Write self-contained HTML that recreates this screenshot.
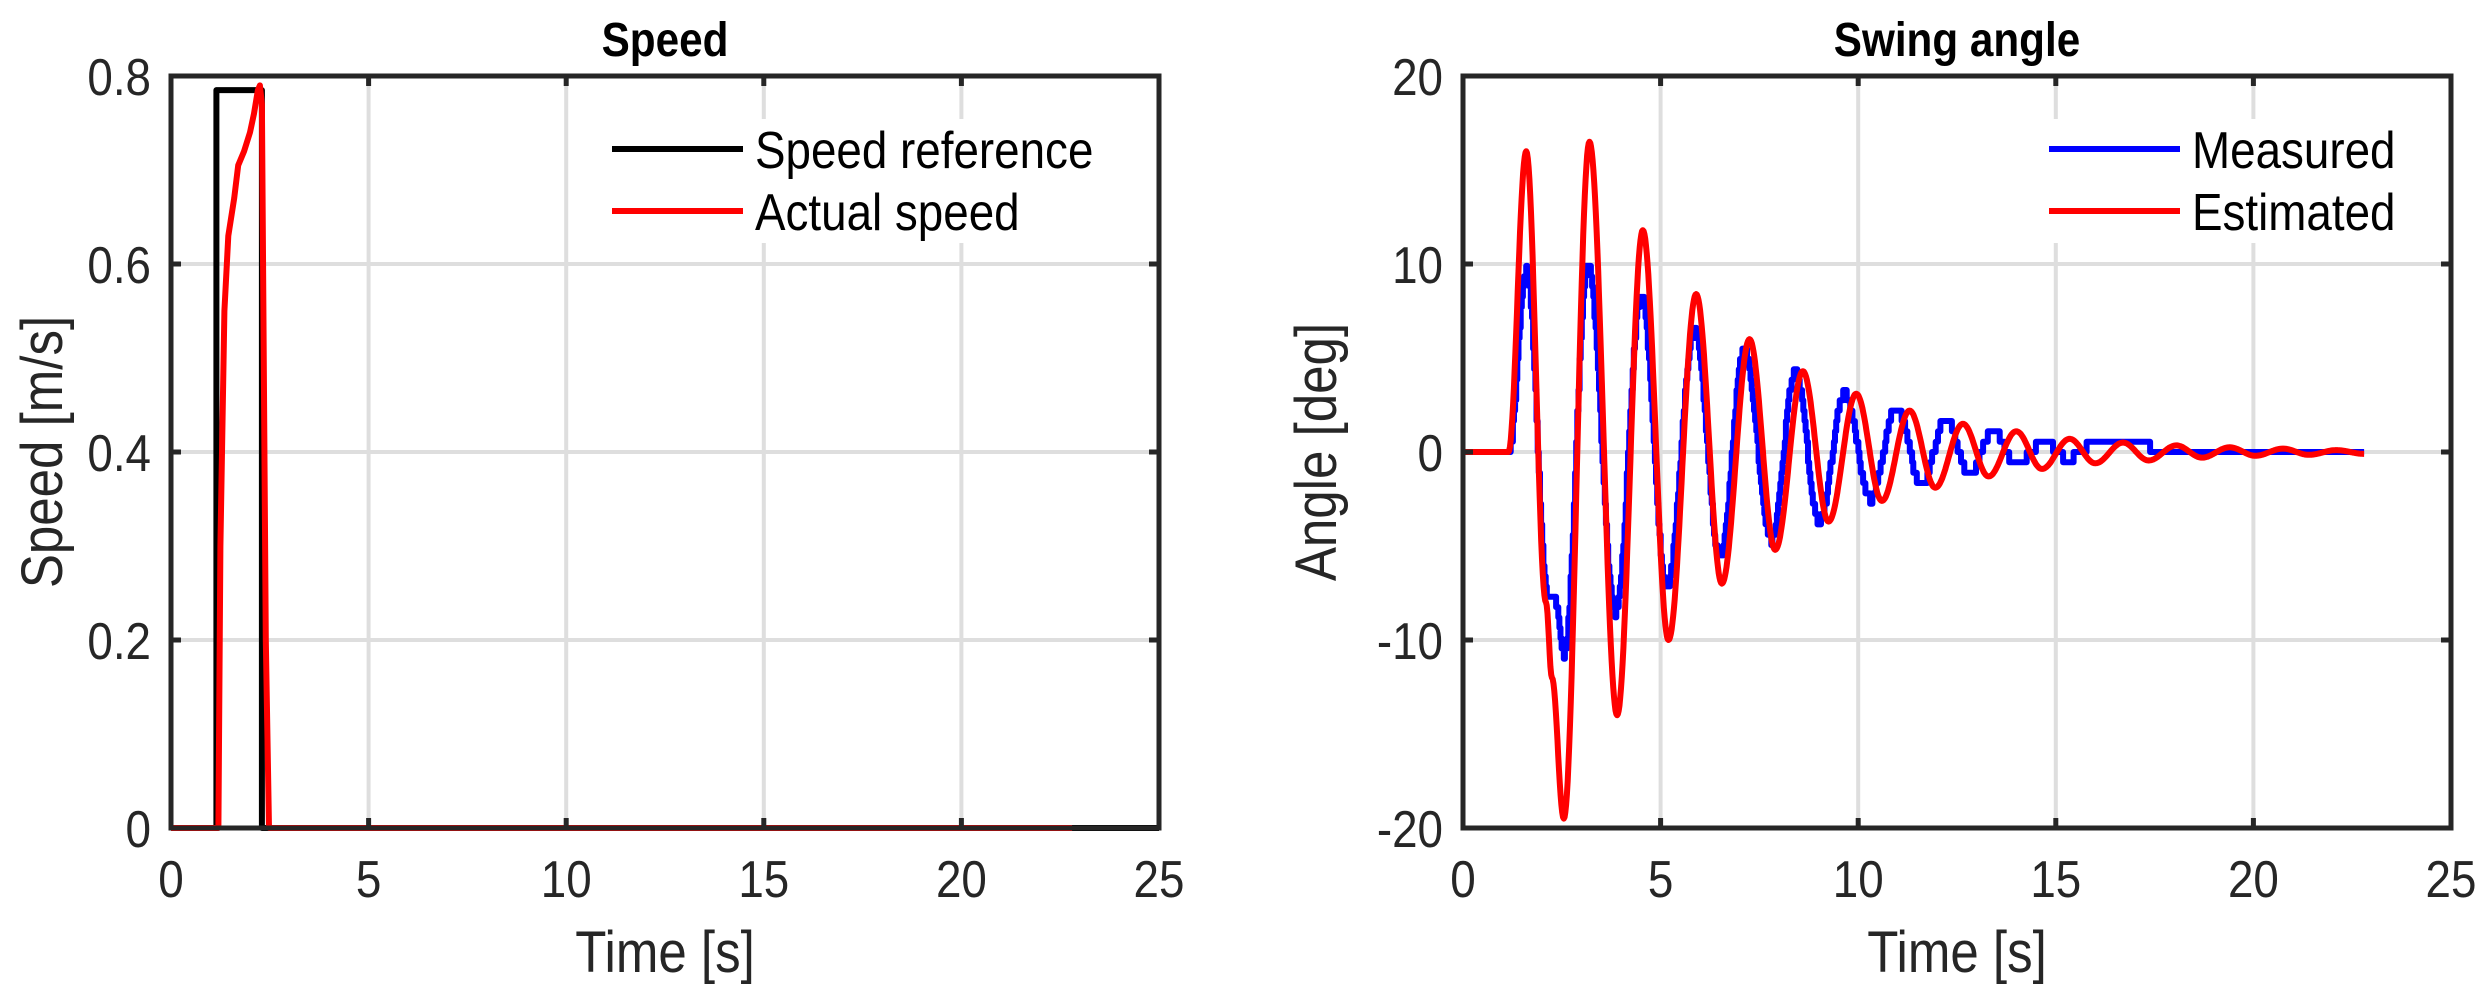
<!DOCTYPE html>
<html><head><meta charset="utf-8"><style>
html,body{margin:0;padding:0;background:#fff;}
svg{display:block;font-family:"Liberation Sans",Arial,sans-serif;}
</style></head><body>
<svg id="s" width="2492" height="995" viewBox="0 0 2492 995" xmlns="http://www.w3.org/2000/svg">
<rect width="2492" height="995" fill="#fff"/>
<g id="g"></g>
</svg>
<script>
const NS="http://www.w3.org/2000/svg";const G=document.getElementById('g');
const texts=[];
function el(t,a,txt){const e=document.createElementNS(NS,t);for(const k in a)e.setAttribute(k,a[k]);if(txt!==undefined){e.textContent=txt;texts.push(e);}G.appendChild(e);return e;}
const T=76,B=828,W=988,LW=6;
function axes(x0,ymin,ymax,yt){
  const X=t=>x0+t/25*W, Y=v=>B-(v-ymin)/(ymax-ymin)*(B-T);
  for(let t=5;t<25;t+=5)el('line',{x1:X(t),x2:X(t),y1:T,y2:B,stroke:'#dedede','stroke-width':4});
  yt.forEach(v=>{if(v!=ymin&&v!=ymax)el('line',{x1:x0,x2:x0+W,y1:Y(v),y2:Y(v),stroke:'#dedede','stroke-width':4});});
  return {X,Y};
}
function frame(x0,ymin,ymax,yt,ytl,ylab,title,ylx){
  const X=t=>x0+t/25*W, Y=v=>B-(v-ymin)/(ymax-ymin)*(B-T);
  el('rect',{x:x0,y:T,width:W,height:B-T,fill:'none',stroke:'#262626','stroke-width':5});
  for(let t=0;t<=25;t+=5){el('line',{x1:X(t),x2:X(t),y1:B,y2:B-10,stroke:'#262626','stroke-width':5});el('line',{x1:X(t),x2:X(t),y1:T,y2:T+10,stroke:'#262626','stroke-width':5});
    el('text',{x:X(t),y:897,'font-size':52,'text-anchor':'middle',fill:'#262626'},String(t));}
  yt.forEach((v,i)=>{el('line',{x1:x0,x2:x0+10,y1:Y(v),y2:Y(v),stroke:'#262626','stroke-width':5});el('line',{x1:x0+W,x2:x0+W-10,y1:Y(v),y2:Y(v),stroke:'#262626','stroke-width':5});
    el('text',{x:x0-20,y:Y(v)+19,'font-size':52,'text-anchor':'end',fill:'#262626'},ytl[i]);});
  el('text',{x:x0+W/2,y:972,'font-size':58,'text-anchor':'middle',fill:'#262626'},'Time [s]');
  el('text',{x:ylx,y:452,'font-size':58,'text-anchor':'middle',fill:'#262626',transform:`rotate(-90 ${ylx} 452)`},ylab);
  el('text',{x:x0+W/2,y:56,'font-size':48,'font-weight':'bold','text-anchor':'middle',fill:'#000'},title);
}
function path(pts,X,Y,c){el('path',{d:'M'+pts.map(p=>X(p[0]).toFixed(1)+','+Y(p[1]).toFixed(1)).join('L'),fill:'none',stroke:c,'stroke-width':LW,'stroke-linejoin':'round'});}
function legend(lx,items,bw){items.forEach((it,i)=>{const y=149+i*62;el('rect',{x:lx-8,y:y-30,width:bw,height:62,fill:'#fff'});});
 items.forEach((it,i)=>{const y=149+i*62;el('line',{x1:lx,x2:lx+131,y1:y,y2:y,stroke:it[1],'stroke-width':LW});el('text',{x:lx+143,y:y+19,'font-size':52,fill:'#000'},it[0]);});}
let A=axes(171,0,0.8,[0,0.2,0.4,0.6,0.8]);
path([[0,0],[1.15,0],[1.15,0.785],[2.3,0.785],[2.3,0],[25,0]],A.X,A.Y,'#000');
path([[0,0],[1.2,0],[1.25,0.3],[1.35,0.55],[1.45,0.63],[1.6,0.67],[1.7,0.705],[1.85,0.72],[2.0,0.74],[2.1,0.76],[2.2,0.785],[2.25,0.79],[2.3,0.77],[2.4,0.2],[2.48,0],[22.8,0]],A.X,A.Y,'#f00');
legend(612,[['Speed reference','#000'],['Actual speed','#f00']],520);
frame(171,0,0.8,[0,0.2,0.4,0.6,0.8],['0','0.2','0.4','0.6','0.8'],'Speed [m/s]','Speed',62);
let R=axes(1463,-20,20,[-20,-10,0,10,20]);
function interp(ex,dt){const out=[];for(let i=0;i<ex.length-1;i++){const [t0,v0]=ex[i],[t1,v1]=ex[i+1];const n=Math.max(2,Math.ceil((t1-t0)/dt));for(let k=0;k<n;k++){const f=k/n;out.push([t0+(t1-t0)*f,v0+(v1-v0)*(1-Math.cos(Math.PI*f))/2]);}}out.push(ex[ex.length-1]);return out;}
const est=[[0,0],[1.15,0],[1.6,16],[2.1,-8],[2.25,-12],[2.55,-19.5],[3.2,16.5],[3.9,-14],[4.55,11.8],[5.2,-10],[5.9,8.4],[6.55,-7],[7.25,6],[7.9,-5.2],[8.6,4.3],[9.25,-3.7],[9.95,3.1],[10.6,-2.6],[11.3,2.2],[11.95,-1.9],[12.65,1.5],[13.3,-1.3],[14.0,1.1],[14.65,-0.9],[15.35,0.7],[16.0,-0.6],[16.7,0.5],[17.35,-0.45],[18.05,0.35],[18.7,-0.3],[19.4,0.25],[20.05,-0.2],[20.75,0.18],[21.4,-0.15],[22.1,0.1],[22.8,-0.1]];
const mea=[[0,0],[1.15,0],[1.6,9.7],[2.15,-7.7],[2.3,-7.7],[2.55,-10.8],[3.15,10.1],[3.85,-8.6],[4.5,8.3],[5.15,-7.2],[5.85,6.5],[6.5,-5.7],[7.1,5.4],[7.8,-4.7],[8.4,4.3],[9.0,-3.7],[9.65,3.1],[10.3,-2.5],[10.95,2.4],[11.6,-1.8],[12.2,1.8],[12.8,-1.2],[13.4,1.1],[14.0,-0.7],[14.7,0.6],[15.3,-0.4],[15.9,0.4],[17.3,0.4],[17.5,0],[22.8,0]];
let mi=interp(mea,0.03),mq=[];let prev=null;
mi.forEach(p=>{const q=Math.round(p[1]/0.55)*0.55;const v=Math.abs(p[1])<0.3?0:q;if(prev!==null&&v!==prev)mq.push([p[0],prev]);mq.push([p[0],v]);prev=v;});
path(mq,R.X,R.Y,'#00f');
path(interp(est,0.02),R.X,R.Y,'#f00');
legend(2049,[['Measured','#00f'],['Estimated','#f00']],400);
frame(1463,-20,20,[-20,-10,0,10,20],['-20','-10','0','10','20'],'Angle [deg]','Swing angle',1336);
texts.forEach(e=>{try{const l=e.getComputedTextLength();if(l>0){e.setAttribute('textLength',(l*0.88).toFixed(1));e.setAttribute('lengthAdjust','spacingAndGlyphs');}}catch(x){}});
</script>
</body></html>
